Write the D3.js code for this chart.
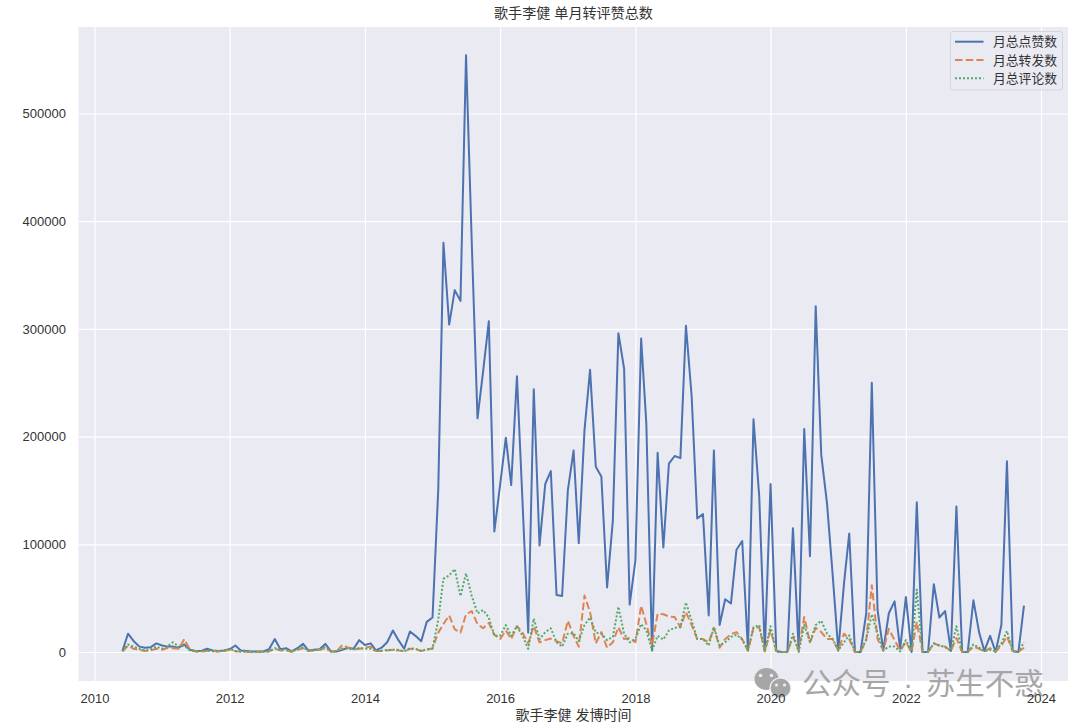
<!DOCTYPE html>
<html><head><meta charset="utf-8">
<script src="https://cdnjs.cloudflare.com/ajax/libs/d3/7.8.5/d3.min.js"></script>
<style>html,body{margin:0;padding:0;background:#fff}svg{display:block}</style>
</head><body><svg id="c" width="1080" height="728"></svg>
<script>
const firstMonth = "2010-06-01";
const lastMonth = "2023-11-01"; // exclusive
const likes = [1000,17000,10000,5000,4000,4500,8000,6000,5000,5000,4000,7000,2000,1000,1000,3000,1500,1000,1500,2500,
 6000,1500,1000,500,500,500,2500,12000,2500,3500,500,3500,7500,1500,2000,2500,7500,500,500,2000,
 4000,3000,11000,6500,8000,1500,4000,9000,20000,11000,3000,19000,15000,10000,28000,32000,151000,380000,304000,336000,
 326000,554000,380000,217000,260000,307000,112000,155000,199000,155000,256000,140000,18000,244000,99000,156000,168000,53000,52000,150000,
 187000,101000,206000,262000,172000,163000,60000,122000,296000,263000,44000,85000,291000,212000,1500,185000,97000,175000,182000,180000,
 303000,237000,124000,128000,34000,187000,25000,49000,45000,95000,103000,2000,216000,144000,1000,156000,1000,0,0,115000,
 1500,207000,89000,321000,183000,138000,73000,1500,64000,110000,0,0,36000,250000,39000,1500,36000,47000,3000,51000,
 0,139000,0,0,63000,32000,38000,1000,135000,0,0,48000,18000,1000,15000,0,25000,177000,1000,0,43000];
const reposts = [500,6000,3000,2000,1000,1500,3000,2000,4000,3500,3000,12000,2000,500,500,1000,1000,500,1000,2000,
 800,500,200,100,200,200,500,3000,1500,1500,300,2000,3500,1000,1500,2000,3500,500,500,6500,
 4000,2500,3000,4000,5000,1000,1000,1500,2000,1500,500,3000,2500,1000,2000,3500,18000,26000,34000,21000,
 18000,35000,38000,26000,22000,27000,16000,12000,20000,12000,24000,18000,8000,24000,9000,11000,12500,10000,8000,29000,
 15000,5000,52500,37000,8000,18500,4000,9000,23000,12000,13000,9000,43000,26000,6000,35500,35000,33000,32500,23000,
 37000,25000,12000,12000,9000,22500,4000,12000,16500,18500,12000,1000,22500,23000,500,20000,1000,0,0,14000,
 2000,32500,9000,22500,18500,12000,12000,1500,17000,12000,0,0,11000,62000,12000,1500,21500,11000,1500,9000,
 0,28000,0,0,8000,6000,5000,1000,13000,0,0,5000,3000,500,3500,500,6000,14500,1000,0,4000];
const comments = [1000,7000,5000,3000,1500,2500,5000,3000,5500,9000,5000,6000,1500,500,800,1500,800,500,1000,3000,
 800,500,200,100,300,300,800,3500,2000,2500,500,2500,4500,1200,1800,2200,4500,700,700,3000,
 3000,2500,3500,3000,3000,1000,1200,1800,2200,2000,500,3500,3000,1200,2500,3000,30000,68000,71000,77000,
 52000,73000,52000,36000,39000,32000,15000,15000,25000,15000,24000,15000,3000,31000,12000,18500,22000,9000,5000,17000,
 17500,10000,25000,32000,18000,17000,11000,14000,42000,17000,9000,12000,26000,20000,1500,15000,11500,20000,22500,23000,
 46000,29000,12000,12000,6000,23000,6000,9000,14000,16000,11500,1500,23000,25000,500,24000,0,0,0,17000,
 0,25000,9000,25000,29000,17000,12000,1500,9000,15500,0,0,12000,35000,17000,1500,5000,5000,500,11000,
 0,58000,0,0,8000,6000,4500,1000,24000,0,0,7000,4000,500,2000,500,8000,19500,500,0,9000];
const yearTicks = [2010,2012,2014,2016,2018,2020,2022,2024];
const valueTicks = [0,100000,200000,300000,400000,500000];
const seriesNames = ["月总点赞数","月总转发数","月总评论数"];
const seriesColors = ["#4c72b0","#dd8452","#55a868"];
const seriesDash = [null,"7.5,3.2","2,2"];
const chartTitle = "歌手李健 单月转评赞总数";
const xTitle = "歌手李健 发博时间";
const watermark = "公众号 · 苏生不惑";

const CJK = '"Liberation Sans","Noto Sans CJK SC",sans-serif';
const ink = "#333";
const months = d3.utcMonth.range(new Date(firstMonth), new Date(lastMonth));
const box = {l:78.5,r:1068,t:27,b:681};
const x = d3.scaleUtc().domain([Date.UTC(2010,0,1),Date.UTC(2024,0,1)]).range([94.5,1041]);
const y = d3.scaleLinear().domain([0,500000]).range([652,113.5]);
const yearDates = yearTicks.map(v=>new Date(Date.UTC(v,0,1)));
const svg = d3.select("#c").style("font-family",CJK);
svg.append("rect").attr("x",box.l).attr("y",box.t).attr("width",box.r-box.l).attr("height",box.b-box.t).attr("fill","#eaeaf2");

// grid lines under the data
const gridX = svg.append("g").attr("transform",`translate(0,${box.b})`)
 .call(d3.axisBottom(x).tickValues(yearDates).tickFormat("").tickSize(-(box.b-box.t)));
const gy = svg.append("g").attr("transform",`translate(${box.l},0)`)
 .call(d3.axisLeft(y).tickValues(valueTicks).tickFormat(d3.format("d")).tickSize(-(box.r-box.l)).tickPadding(12.5));
[gridX,gy].forEach(g=>{
 g.select(".domain").remove();
 g.selectAll("line").attr("stroke","#fff").attr("stroke-width",1.2);
 g.selectAll("text").attr("fill",ink).style("font-size","13px").style("font-family",CJK);
});

const line = d3.line().x((d,i)=>x(months[i])).y(d=>y(d));
[likes,reposts,comments].forEach((vals,k)=>{
 svg.append("path").datum(vals).attr("d",line).attr("fill","none").attr("stroke",seriesColors[k])
  .attr("stroke-width",2).attr("stroke-linejoin","round").attr("stroke-dasharray",seriesDash[k]);
});

svg.append("text").attr("x",573.5).attr("y",18).attr("text-anchor","middle").attr("fill",ink).style("font-size","14.1px").text(chartTitle);
svg.append("text").attr("x",573.5).attr("y",720).attr("text-anchor","middle").attr("fill",ink).style("font-size","14px").text(xTitle);

const lg = svg.append("g");
lg.append("rect").attr("x",950.5).attr("y",31.5).attr("width",112).attr("height",58.5).attr("rx",2.5).attr("fill","#eaeaf2").attr("fill-opacity",.85).attr("stroke","#d5d5dc").attr("stroke-width",1);
seriesNames.forEach((n,k)=>{
 const yy = 41.7+18.3*k;
 lg.append("line").attr("x1",955).attr("x2",983.5).attr("y1",yy).attr("y2",yy).attr("stroke",seriesColors[k]).attr("stroke-width",2).attr("stroke-dasharray",seriesDash[k]);
 lg.append("text").attr("x",993).attr("y",yy+4.6).attr("fill",ink).style("font-size","12.8px").text(n);
});

const wm = svg.append("g").attr("fill","#a6a6a6");
wm.append("ellipse").attr("cx",766.5).attr("cy",679).attr("rx",12).attr("ry",11);
[[760.5,675.5],[771.5,675.5]].forEach(p=>wm.append("circle").attr("cx",p[0]).attr("cy",p[1]).attr("r",1.8).attr("fill","#eaeaf2"));
wm.append("ellipse").attr("cx",780.5).attr("cy",688).attr("rx",10.5).attr("ry",10).attr("stroke","#f2f2f6").attr("stroke-width",1.2);
[[776.5,685],[784.5,685]].forEach(p=>wm.append("circle").attr("cx",p[0]).attr("cy",p[1]).attr("r",1.5).attr("fill","#f2f2f6"));
wm.append("text").attr("x",802).attr("y",694).attr("fill","#a6a6a6").style("font-size","29.5px").style("word-spacing","4.5px").text(watermark);

// year labels sit above the watermark
const labelX = svg.append("g").attr("transform",`translate(0,${box.b})`)
 .call(d3.axisBottom(x).tickValues(yearDates).tickFormat(d3.utcFormat("%Y")).tickSize(0).tickPadding(12.5));
labelX.select(".domain").remove();
labelX.selectAll("text").attr("fill",ink).style("font-size","13px").style("font-family",CJK);
</script></body></html>
